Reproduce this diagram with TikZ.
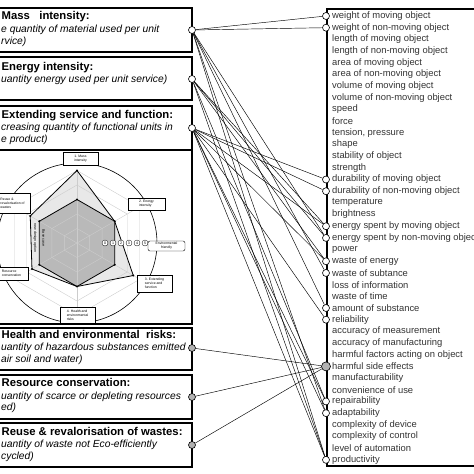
\documentclass[tikz,border=0pt]{standalone}
\usepackage{fontspec}
\setmainfont{Liberation Sans}

\tikzset{
  panel/.style={draw, line width=1.5pt},
  head/.style={anchor=base west, inner sep=0pt, font=\fontsize{11.3}{12}\selectfont\bfseries},
  sub/.style={anchor=base west, inner sep=0pt, font=\fontsize{10.3}{12}\selectfont\itshape},
  item/.style={anchor=west, inner sep=0pt, text=black!80, font=\fontsize{9.4}{11}\selectfont},
  port/.style={draw, circle, fill=white, line width=0.6pt, minimum size=7pt, inner sep=0pt},
  gport/.style={port, fill=gray!60},
  link/.style={line width=0.45pt},
  axbox/.style={draw, fill=white, line width=0.4pt, inner sep=0.7pt, align=left, font=\fontsize{3.4}{3.9}\selectfont},
  numc/.style={draw, circle, fill=white, line width=0.3pt, minimum size=6pt, inner sep=0pt, font=\fontsize{3.6}{4}\selectfont},
}

\begin{document}
\begin{tikzpicture}[x=1pt, y=-1pt]
\useasboundingbox (0,0) rectangle (474,474);
\clip (0,0) rectangle (474,474);

% left column
\draw[panel] (-5,8) rectangle (192,52);
\draw[panel] (-5,57) rectangle (192,100);
\draw[panel] (-5,106) rectangle (192,150);
\draw[panel] (-5,150) rectangle (192,324);
\draw[panel] (-5,328) rectangle (192,370);
\draw[panel] (-5,375) rectangle (192,419);
\draw[panel] (-5,423) rectangle (192,467);

\node[head] (mh) at (1.5,19) {Mass~~~intensity:};
\node[sub] (ms1) at (1,32) {e quantity of material used per unit};
\node[sub] (ms2) at (1,44) {rvice)};
\node[head] (eh) at (1.5,70) {Energy intensity:};
\node[sub] (es1) at (1,82) {uantity energy used per unit service)};
\node[head] (xh) at (1.5,118) {Extending service and function:};
\node[sub] (xs1) at (1,130) {creasing quantity of functional units in};
\node[sub] (xs2) at (1,142) {e product)};
\node[head] (hh) at (1.5,338) {Health and environmental~~risks:};
\node[sub] (hs1) at (1,350) {uantity of hazardous substances emitted};
\node[sub] (hs2) at (1,362) {air soil and water)};
\node[head] (rh) at (1.5,386.5) {Resource conservation:};
\node[sub] (rs1) at (1,399) {uantity of scarce or depleting resources};
\node[sub] (rs2) at (1,410) {ed)};
\node[head] (wh) at (1.5,435) {Reuse \& revalorisation of wastes:};
\node[sub] (ws1) at (1,447) {uantity of waste not Eco-efficiently};
\node[sub] (ws2) at (1,459) {cycled)};

% radar chart
\begin{scope}[shift={(77,243)}, y=1pt]
  \fill[gray!18] (90:72.5) -- (30:43.5) -- (-30:65) -- (-90:43.5) -- (210:52) -- (150:54) -- cycle;
  \fill[gray!55] (90:43.5) -- (30:43.5) -- (-30:43.5) -- (-90:43.5) -- (210:43.5) -- (150:43.5) -- cycle;
  \foreach \r in {14.5,29,43.5,58,72.5}
    \draw[gray!40, line width=0.4pt] (90:\r) -- (30:\r) -- (-30:\r) -- (-90:\r) -- (210:\r) -- (150:\r) -- cycle;
  \foreach \a in {90,30,-30,-90,210,150}
    \draw[gray!40, line width=0.4pt] (0,0) -- (\a:72.5);
  \draw[line width=0.8pt] (90:72.5) -- (30:43.5) -- (-30:65) -- (-90:43.5) -- (210:52) -- (150:54) -- cycle;
  \draw[line width=0.8pt] (90:43.5) -- (30:43.5) -- (-30:43.5) -- (-90:43.5) -- (210:43.5) -- (150:43.5) -- cycle;
  \foreach \a/\r in {90/72.5, 30/43.5, -30/65, -90/43.5, 210/52, 150/54, 90/43.5, -30/43.5, 210/43.5, 150/43.5}
    \fill (\a:\r) circle (1.1);
  \draw[line width=0.6pt] (0,0) circle (80);
  \foreach \k in {0,...,5}
    \node[numc] (n\k) at (28+8*\k, 0) {\k};
\end{scope}

\node[axbox, minimum width=35pt, minimum height=13pt] (a1) at (80.5,158.5) {1. Mass\\intensity};
\node[axbox, minimum width=37pt, minimum height=12pt] (a2) at (146.5,204) {2. Energy\\intensity};
\node[axbox, rounded corners=2pt, minimum width=37pt, minimum height=10pt, align=center] (env) at (166.5,246) {Environmental\\friendly};
\node[axbox, minimum width=35pt, minimum height=17pt] (a3) at (154.5,283.5) {3. Extending\\service and\\function};
\node[axbox, minimum width=35pt, minimum height=16pt] (a4) at (77.5,315) {4. Health and\\environmental\\risks};
\node[axbox, minimum width=33pt, minimum height=13pt] (a5) at (11.5,273.5) {Resource\\conservation};
\node[axbox, minimum width=35pt, minimum height=20pt] (a6) at (12.5,203) {Reuse \&\\revalorisation of\\wastes};
\node[rotate=-90, inner sep=0pt, font=\fontsize{3.6}{4}\selectfont] (nd) at (35,238) {new design option};
\node[rotate=-90, inner sep=0pt, font=\fontsize{3.6}{4}\selectfont] (bc) at (43.5,238) {Base case};

% right column
\draw[line width=1.5pt] (480,9) -- (327,9) -- (327,466) -- (480,466);
\foreach \i/\t in {1/weight of moving object, 2/weight of non-moving object,
  3/length of moving object, 4/length of non-moving object,
  5/area of moving object, 6/area of non-moving object,
  7/volume of moving object, 8/volume of non-moving object,
  9/speed, 10/force, 11/{tension, pressure}, 12/shape,
  13/stability of object, 14/strength,
  15/durability of moving object, 16/durability of non-moving object,
  17/temperature, 18/brightness,
  19/energy spent by moving object, 20/energy spent by non-moving object,
  21/power, 22/waste of energy, 23/waste of subtance,
  24/loss of information, 25/waste of time, 26/amount of substance,
  27/reliability, 28/accuracy of measurement, 29/accuracy of manufacturing,
  30/harmful factors acting on object, 31/harmful side effects,
  32/manufacturability, 33/convenience of use, 34/repairability,
  35/adaptability, 36/complexity of device, 37/complexity of control,
  38/level of automation, 39/productivity}
  \node[item] (r\i) at (332, {16+11.68*(\i-1)}) {\t};

% ports
\node[port] (pm) at (192,30) {};
\node[port] (pe) at (192,79) {};
\node[port] (px) at (192,128) {};
\node[gport] (ph) at (192,348) {};
\node[gport] (pr) at (192,397) {};
\node[gport] (pw) at (192,445) {};
\foreach \i in {1,2,15,16,19,20,22,23,26,27,34,35,39}
  \node[port] (p\i) at (326, {16+11.68*(\i-1)}) {};
\node[gport, minimum size=9pt] (p31) at (326, {16+11.68*30}) {};

% links
\foreach \a/\b in {pm/p1, pm/p2, pm/p20, pm/p23, pm/p26, pm/p35, pm/p39,
  pe/p19, pe/p20, pe/p22, pe/p34, pe/p39,
  px/p15, px/p16, px/p19, px/p22, px/p27, px/p34, px/p35, px/p39,
  ph/p31, pr/p31, pw/p31}
  \draw[link] (\a) -- (\b);
\end{tikzpicture}
\end{document}
